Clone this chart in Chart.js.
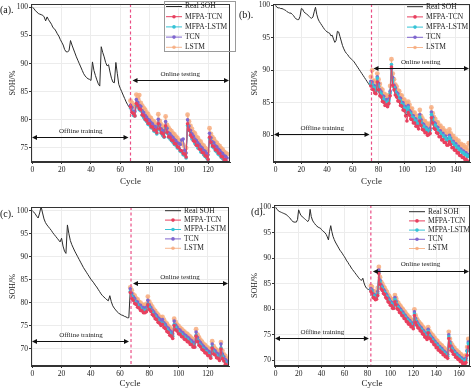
<!DOCTYPE html>
<html>
<head>
<meta charset="utf-8">
<script src="https://cdn.jsdelivr.net/npm/chart.js@4.4.0/dist/chart.umd.min.js"></script>
<style>
  html, body { margin: 0; padding: 0; background: #fff; }
  #wrap { position: relative; width: 474px; height: 389px; overflow: hidden; }
  .panel { position: absolute; }
</style>
</head>
<body>
<div id="wrap">
  <div class="panel" style="left:0;top:0"><canvas id="chartA" width="237" height="195"></canvas></div>
  <div class="panel" style="left:237px;top:0"><canvas id="chartB" width="237" height="195"></canvas></div>
  <div class="panel" style="left:0;top:195px"><canvas id="chartC" width="237" height="194"></canvas></div>
  <div class="panel" style="left:237px;top:195px"><canvas id="chartD" width="237" height="194"></canvas></div>
</div>
<script>
// series names shared by the four panels
var seriesNames = ['Real SOH', 'MFPA-TCN', 'MFPA-LSTM', 'TCN', 'LSTM'];
var seriesColors = ['#2b2b2b', '#e8405f', '#35c3d6', '#7f66cf', 'rgba(247,172,126,0.85)'];
var offlineText = 'Offline training';
var onlineText = 'Online testing';

// ---- panel (a) ----
var xTicksA = [0, 20, 40, 60, 80, 100, 120];
var yTicksA = [75, 80, 85, 90, 95, 100];
var startA = 67;
var realA = [100,99.8,99.4,99.2,98.9,98.8,98.7,98.6,98.3,97.6,
  98.3,97.8,97.4,97.0,96.4,96.2,95.8,95.3,94.9,94.3,
  93.8,93.3,92.5,92.1,92.1,92.3,94.1,93.3,92.6,91.9,
  91.2,90.6,90.0,89.4,88.8,88.2,87.8,87.5,87.3,87.2,
  87.0,90.3,88.8,87.9,87.1,86.4,86.0,93.0,92.0,91.2,
  90.2,89.6,89.8,88.5,87.4,86.7,86.6,90.2,88.2,86.3,
  85.6,85.0,84.4,83.8,83.2,82.7,82.3,
  82.4,81.6,81.2,81.0,83.3,82.6,82.3,81.9,81.2,80.8,
  80.4,80.0,79.7,79.4,79.1,78.8,78.5,78.3,78.0,79.8,
  78.5,78.0,77.6,77.3,79.4,77.9,77.3,77.0,76.7,76.4,
  76.1,75.8,75.5,75.2,74.9,74.6,74.3,74.0,73.7,79.8,
  78.4,77.6,77.0,76.6,76.2,75.8,75.5,75.1,74.8,74.5,
  74.2,73.9,73.6,73.3,77.4,76.2,75.7,75.3,75.0,74.7,
  74.4,74.1,73.8,73.5,73.2,73.0,72.8];
var mfpaTcnA = [82.3,81.3,81.1,80.7,82.9,82.5,82.0,81.8,80.9,80.7,
  80.1,79.9,79.4,79.3,78.8,78.7,78.2,78.2,77.7,79.3,
  78.4,77.7,77.5,77.0,78.9,77.8,77.0,76.9,76.4,76.3,
  75.8,75.7,75.2,75.1,74.6,74.5,74.0,73.9,73.4,79.3,
  78.2,77.3,76.9,76.3,76.1,75.5,75.4,74.8,74.7,74.2,
  74.1,73.6,73.5,73.0,76.9,76.0,75.4,75.2,74.7,74.6,
  74.1,74.0,73.5,73.4,72.9,72.9,72.5];
var mfpaLstmA = [82.1,81.4,80.8,80.7,82.6,82.3,81.8,81.6,80.8,80.4,
  80.0,79.7,79.2,79.1,78.6,78.5,78.0,77.9,77.5,79.0,
  78.2,77.6,77.2,76.9,78.6,77.6,76.9,76.6,76.3,76.0,
  75.6,75.5,75.0,74.9,74.4,74.3,73.8,73.7,73.2,79.0,
  78.1,77.2,76.6,76.3,75.8,75.5,75.0,74.9,74.3,74.2,
  73.8,73.5,73.2,72.9,76.7,75.9,75.2,75.0,74.5,74.3,
  73.9,73.7,73.3,73.1,72.7,72.6,72.4];
var tcnA = [82.6,82.2,81.5,81.5,83.6,83.1,82.6,82.4,81.6,81.3,
  80.8,80.5,80.1,79.9,79.5,79.3,78.9,78.8,78.4,80.1,
  79.1,78.4,78.1,77.7,79.7,78.5,77.7,77.5,77.1,76.9,
  76.5,76.3,75.9,75.8,75.6,76.4,76.6,74.6,74.1,80.0,
  78.9,78.1,77.5,77.1,76.6,76.3,75.9,75.6,75.2,75.0,
  74.6,74.4,74.0,73.8,77.6,76.8,76.1,75.9,75.4,75.2,
  74.8,74.6,74.2,74.0,73.6,73.5,73.2];
var lstmA = [83.4,83.0,82.3,82.6,84.5,83.7,84.4,83.0,82.5,82.1,
  81.8,81.3,81.0,80.5,80.3,79.8,79.7,79.3,79.1,81.0,
  79.8,79.2,78.8,78.5,80.6,79.1,78.6,78.2,78.0,77.6,
  77.4,77.0,76.8,76.4,76.2,75.8,75.6,75.2,75.0,80.9,
  79.7,78.9,78.4,77.8,77.6,77.0,76.8,76.3,76.1,75.6,
  75.4,75.0,74.8,74.4,78.5,77.5,76.9,76.6,76.1,75.9,
  75.5,75.3,74.9,74.7,74.3,74.1,73.9];

// ---- panel (b) ----
var xTicksB = [0, 20, 40, 60, 80, 100, 120, 140];
var yTicksB = [80, 85, 90, 95, 100];
var startB = 74;
var realB = [100,99.7,99.6,99.6,99.5,99.5,99.4,99.3,99.2,99.0,
  98.9,98.8,98.8,98.6,98.4,98.1,97.9,97.8,97.8,98.3,
  99.5,99.4,99.0,98.8,98.7,98.5,98.3,98.1,98.0,98.2,
  99.0,99.7,98.6,97.9,97.5,97.2,96.9,96.6,96.3,96.1,
  95.9,95.8,95.7,95.3,95.4,94.8,94.3,94.6,96.0,95.9,
  95.2,94.5,93.8,93.3,92.9,92.6,92.4,92.1,91.9,91.7,
  91.5,91.3,91.0,90.7,90.4,90.1,89.8,89.5,89.2,88.9,
  88.6,88.3,88.0,87.7,
  87.5,87.2,86.9,86.6,86.3,88.5,86.8,86.2,85.7,85.3,
  84.9,84.6,84.4,84.3,84.6,86.0,90.8,87.8,86.9,86.3,
  85.8,85.4,85.0,84.7,84.3,84.0,83.7,83.4,83.1,83.6,
  83.0,82.6,82.3,82.0,81.8,81.5,81.3,81.1,82.3,81.4,
  81.0,80.7,80.5,80.3,80.1,80.0,80.2,83.0,81.8,81.2,
  80.8,80.5,80.2,79.9,79.7,79.5,79.3,79.1,78.9,78.7,
  78.5,79.2,78.6,78.3,78.1,77.9,77.7,77.5,77.3,77.1,
  76.9,76.8,76.6,76.5,76.3,76.2,76.1];
var mfpaTcnB = [87.6,87.1,87.0,86.5,86.4,88.2,87.0,86.1,85.9,85.2,
  85.1,84.6,84.7,84.4,84.9,86.1,90.5,87.7,87.0,86.2,
  85.9,85.3,85.2,84.6,84.5,83.9,83.8,83.0,82.2,83.5,
  83.1,82.5,82.4,81.9,81.9,81.4,81.4,81.0,82.2,81.5,
  80.9,80.8,80.4,80.4,80.0,80.1,80.3,82.7,81.9,81.1,
  80.9,80.4,80.3,79.8,79.8,79.3,79.3,78.9,78.9,78.5,
  78.5,79.0,78.6,78.1,78.1,77.7,77.7,77.3,77.3,76.9,
  76.9,76.6,76.6,76.3,76.3,76.0,76.0];
var mfpaLstmB = [88.0,87.8,87.4,87.3,86.8,88.8,87.5,86.7,86.4,85.8,
  85.6,85.1,85.1,84.8,85.3,86.5,90.9,88.5,87.4,86.9,
  86.3,86.0,85.5,85.3,84.8,84.7,84.2,84.1,83.6,84.3,
  83.5,83.3,82.8,82.7,82.3,82.2,81.8,81.8,82.8,82.1,
  81.5,81.4,80.9,81.0,80.6,80.7,80.8,83.2,82.5,81.7,
  81.5,81.0,80.9,80.4,80.4,79.9,80.0,79.6,79.6,79.2,
  79.2,79.7,79.3,78.8,78.8,78.4,78.4,78.0,78.0,77.6,
  77.6,77.3,77.3,77.0,77.0,76.7,76.8];
var tcnB = [88.3,88.2,87.7,87.6,87.1,89.0,88.0,87.0,86.7,86.1,
  86.0,85.4,85.5,85.2,85.6,86.8,90.2,88.9,87.7,87.3,
  86.6,86.4,85.8,85.7,85.1,85.0,84.5,84.4,84.0,84.6,
  83.8,83.6,83.1,83.0,82.6,82.5,82.1,82.0,83.2,82.4,
  81.8,81.7,81.3,81.2,80.9,80.9,81.1,83.6,82.8,82.0,
  81.8,81.3,81.2,80.7,80.7,80.2,80.3,79.9,79.9,79.5,
  79.5,80.0,79.6,79.1,79.1,78.7,78.7,78.3,78.3,77.9,
  77.9,77.6,77.6,77.3,77.3,77.0,77.1];
var lstmB = [89.0,90.0,88.3,88.4,87.8,89.5,88.6,87.9,87.2,87.0,
  86.4,86.3,85.9,86.0,86.2,87.6,91.7,89.5,88.6,87.8,
  87.5,86.9,86.8,86.2,86.1,85.5,85.5,85.0,84.9,85.2,
  84.7,84.1,84.1,83.5,83.5,83.0,83.0,82.6,83.9,83.0,
  82.6,82.2,82.2,81.8,81.8,81.4,81.8,84.3,83.4,82.8,
  82.5,82.0,82.0,81.4,81.5,80.9,81.1,80.6,80.7,80.2,
  80.3,80.9,80.3,79.8,79.9,79.4,79.5,79.0,79.2,78.6,
  78.7,78.3,78.5,78.0,78.2,77.7,78.8];

// ---- panel (c) ----
var xTicksC = [0, 20, 40, 60, 80, 100, 120];
var yTicksC = [70, 75, 80, 85, 90, 95, 100];
var startC = 67;
var realC = [100,99.7,99.3,98.8,98.4,99.5,100.9,99.5,98.2,97.4,
  96.9,96.5,96.1,95.7,95.2,94.8,94.4,94.0,93.6,93.2,
  94.0,92.3,91.2,90.7,96.9,95.0,93.5,92.6,91.9,91.2,
  90.6,90.0,89.4,88.8,88.2,87.6,87.1,86.6,86.1,85.6,
  85.1,84.7,84.3,83.8,83.4,82.9,82.4,81.9,81.5,81.2,
  80.9,80.6,80.4,81.5,80.2,79.3,78.8,78.4,78.0,77.7,
  77.5,77.3,77.2,77.0,76.9,76.7,76.7,
  82.8,81.6,81.0,80.5,80.1,79.7,79.3,79.0,78.7,78.5,
  78.3,78.6,80.0,79.2,78.6,78.1,77.6,77.2,76.8,76.4,
  76.0,75.7,75.9,75.3,74.8,74.4,74.0,73.6,73.2,72.9,
  75.6,74.8,74.3,73.9,73.6,73.3,73.0,72.7,72.4,72.2,
  71.9,71.6,71.3,71.0,70.8,73.3,72.0,71.4,70.9,70.5,
  70.1,69.8,69.5,69.2,68.9,68.6,70.6,69.5,69.1,68.7,
  68.4,68.1,70.5,68.5,67.8,67.3,66.9,66.6];
var mfpaTcnC = [82.2,80.9,80.5,79.8,79.6,79.0,78.8,78.3,78.2,77.8,
  77.8,78.0,79.5,78.5,78.1,77.4,77.1,76.5,76.3,75.7,
  75.5,75.0,75.3,74.6,74.3,73.7,73.5,72.9,72.7,72.2,
  75.0,74.1,73.8,73.2,73.1,72.6,72.5,72.0,71.9,71.5,
  71.4,70.9,70.8,70.3,70.3,72.7,71.5,70.7,70.4,69.8,
  69.6,69.1,69.0,68.5,68.4,67.9,70.1,68.8,68.6,68.0,
  67.9,67.4,69.9,67.8,67.3,66.6,66.4,65.9];
var mfpaLstmC = [82.4,81.4,80.6,80.3,79.7,79.5,78.9,78.8,78.3,78.3,
  77.9,78.4,79.6,79.0,78.2,77.9,77.2,77.0,76.4,76.2,
  75.6,75.5,75.5,75.1,74.4,74.2,73.6,73.4,72.8,72.7,
  75.2,74.6,73.9,73.7,73.2,73.1,72.6,72.5,72.0,72.0,
  71.5,71.4,70.9,70.8,70.4,72.9,71.8,71.0,70.7,70.1,
  69.9,69.4,69.3,68.8,68.7,68.2,70.3,69.3,68.7,68.5,
  68.0,67.9,70.1,68.3,67.4,67.1,66.5,66.3];
var tcnC = [83.0,82.0,81.3,80.9,80.3,80.1,79.5,79.4,78.9,78.9,
  78.5,79.0,80.5,79.5,79.0,78.4,78.0,77.5,77.2,76.7,
  76.4,76.0,76.3,75.6,75.2,74.7,74.4,73.9,73.6,73.2,
  76.0,75.1,74.7,74.2,74.0,73.6,73.4,73.0,72.8,72.5,
  72.3,71.9,71.7,71.3,71.2,73.6,72.4,71.7,71.3,70.8,
  70.5,70.1,69.9,69.5,69.3,68.9,71.0,69.8,69.5,69.0,
  68.8,68.4,71.0,68.8,68.2,67.6,67.3,66.9];
var lstmC = [83.3,82.7,81.8,81.5,80.9,80.7,80.1,80.0,79.5,79.5,
  79.1,79.7,81.3,80.2,79.6,79.1,78.5,78.2,77.7,77.4,
  76.9,76.7,76.9,76.3,75.7,75.4,74.9,74.6,74.1,73.9,
  76.5,75.8,75.2,74.9,74.5,74.3,73.9,73.7,73.3,73.2,
  72.8,72.6,72.2,72.0,71.7,74.2,73.0,72.4,71.8,71.5,
  71.0,70.8,70.4,70.2,69.8,69.6,71.6,70.5,70.0,69.7,
  69.3,69.1,71.4,69.5,68.7,68.4,67.8,67.6];

// ---- panel (d) ----
var xTicksD = [0, 20, 40, 60, 80, 100, 120, 140, 160];
var yTicksD = [70, 75, 80, 85, 90, 95, 100];
var startD = 83;
var realD = [100,99.6,99.4,99.2,99.1,99.0,98.9,98.8,98.7,98.6,
  98.4,98.2,98.0,97.7,97.4,97.2,97.1,97.1,97.1,97.6,
  99.5,98.9,98.4,98.2,98.0,97.8,97.6,97.4,97.2,97.6,
  99.6,98.2,97.5,97.1,96.8,96.5,96.3,96.1,96.0,95.9,
  95.6,95.4,95.2,95.0,94.7,94.2,93.6,95.3,96.4,95.2,
  94.3,93.7,93.2,92.8,92.4,92.0,91.6,91.3,91.0,90.6,
  90.3,89.9,89.5,89.2,88.8,88.5,88.1,87.8,87.5,87.2,
  86.9,86.6,86.3,86.0,85.8,85.7,86.1,85.2,84.6,84.2,
  84.0,83.9,83.8,
  83.9,83.4,82.8,82.5,82.4,82.3,83.2,87.5,85.3,84.5,
  84.0,83.6,83.2,82.8,82.4,82.0,81.6,81.3,81.0,80.7,
  80.5,82.0,81.2,80.6,80.2,79.9,79.6,79.3,79.0,78.7,
  78.4,78.1,77.8,77.6,77.4,77.1,76.9,76.7,79.2,77.8,
  77.3,76.9,76.6,76.3,76.0,75.7,75.4,75.1,74.8,74.6,
  75.8,74.9,74.5,74.2,73.9,73.6,73.3,73.0,72.8,72.5,
  72.3,72.1,71.9,71.6,71.4,71.2,71.0,70.9,74.8,73.2,
  72.5,72.0,71.7,71.4,71.1,70.9,70.7,70.5,70.3,70.1,
  69.9,69.8,69.7,70.0,71.5,73.0];
var mfpaTcnD = [83.5,83.1,82.3,82.2,81.9,82.0,82.7,87.0,84.9,84.0,
  83.7,83.1,82.9,82.3,82.1,81.5,81.3,80.8,80.7,80.2,
  80.2,81.5,80.9,80.1,79.9,79.4,79.3,78.8,78.7,78.2,
  78.1,77.6,77.5,77.1,77.1,76.6,76.6,76.2,78.8,77.4,
  76.9,76.4,76.3,75.8,75.7,75.2,75.1,74.6,74.5,74.1,
  75.4,74.4,74.2,73.7,73.6,73.1,73.0,72.5,72.5,72.0,
  72.0,71.6,71.6,71.1,71.1,70.7,70.7,70.4,74.3,72.8,
  72.0,71.7,71.2,71.1,70.6,70.6,70.2,70.2,69.8,69.8,
  69.4,69.5,69.2,69.6,71.0,72.6];
var mfpaLstmD = [83.8,83.5,82.7,82.6,82.3,82.4,83.1,87.2,85.4,84.4,
  84.1,83.5,83.3,82.7,82.5,81.9,81.7,81.2,81.1,80.6,
  80.6,81.9,81.3,80.5,80.3,79.8,79.7,79.2,79.1,78.6,
  78.5,78.0,77.9,77.5,77.5,77.0,77.0,76.6,79.1,77.9,
  77.2,76.9,76.6,76.2,76.1,75.6,75.5,75.0,74.9,74.5,
  75.7,74.9,74.5,74.1,74.0,73.5,73.4,72.9,72.9,72.4,
  72.4,72.0,72.0,71.5,71.5,71.1,71.1,70.8,74.6,73.3,
  72.4,72.1,71.6,71.5,71.0,71.0,70.6,70.6,70.2,70.2,
  69.8,69.9,69.6,70.1,71.8,73.3];
var tcnD = [84.1,83.8,83.0,82.9,82.6,82.7,83.5,87.7,85.7,84.8,
  84.4,83.9,83.6,83.1,82.8,82.3,82.0,81.6,81.4,81.0,
  80.9,82.3,81.6,80.9,80.6,80.2,80.0,79.6,79.4,79.0,
  78.8,78.4,78.2,77.9,77.8,77.4,77.3,77.0,79.5,78.2,
  77.6,77.2,76.9,76.6,76.4,76.0,75.8,75.4,75.2,74.9,
  76.1,75.2,74.8,74.5,74.3,73.9,73.7,73.3,73.2,72.8,
  72.7,72.4,72.3,71.9,71.8,71.5,71.4,71.2,75.0,73.6,
  72.8,72.4,72.0,71.8,71.4,71.3,71.0,70.9,70.6,70.5,
  70.2,70.2,70.0,70.4,72.0,73.6];
var lstmD = [84.6,84.4,83.6,83.5,83.2,83.3,84.2,88.3,86.3,85.4,
  85.0,84.5,84.2,83.7,83.4,82.9,82.6,82.2,82.0,81.6,
  81.5,82.8,82.2,81.5,81.2,80.8,80.6,80.2,80.0,79.6,
  79.4,79.0,78.8,78.5,78.4,78.0,77.9,77.6,80.0,78.8,
  78.2,77.8,77.5,77.2,77.0,76.6,76.4,76.0,75.8,75.5,
  76.5,75.8,75.4,75.1,74.9,74.5,74.3,73.9,73.8,73.4,
  73.3,73.0,72.9,72.5,72.4,72.1,72.0,71.8,75.6,74.2,
  73.4,73.0,72.6,72.4,72.0,71.9,71.6,71.5,71.2,71.1,
  70.8,70.8,70.6,71.0,72.6,74.2];

var serif = "'Liberation Serif', 'Times New Roman', serif";

function pts(arr, start) {
  return arr.map(function (v, i) { return { x: start + i, y: v }; });
}

function arrow(ctx, x1, x2, y) {
  ctx.beginPath(); ctx.moveTo(x1 + 3, y); ctx.lineTo(x2 - 3, y); ctx.stroke();
  ctx.beginPath(); ctx.moveTo(x1, y); ctx.lineTo(x1 + 5, y - 2.5); ctx.lineTo(x1 + 5, y + 2.5); ctx.closePath(); ctx.fill();
  ctx.beginPath(); ctx.moveTo(x2, y); ctx.lineTo(x2 - 5, y - 2.5); ctx.lineTo(x2 - 5, y + 2.5); ctx.closePath(); ctx.fill();
}

// frame, split line, arrows, legend and panel letter
var deco = {
  id: 'deco',
  afterDatasetsDraw: function (chart, args, o) {
    var ctx = chart.ctx, a = chart.chartArea, x = chart.scales.x, y = chart.scales.y;
    ctx.save();
    var sx = x.getPixelForValue(o.split);
    ctx.strokeStyle = '#ea4f86';
    ctx.lineWidth = 1.2;
    ctx.setLineDash([3, 2.5]);
    ctx.beginPath(); ctx.moveTo(sx, a.top); ctx.lineTo(sx, a.bottom); ctx.stroke();
    ctx.setLineDash([]);
    ctx.lineWidth = 1;

    ctx.strokeStyle = '#111';
    ctx.fillStyle = '#111';
    var yOff = Math.round(y.getPixelForValue(o.offArrow)) + 0.5;
    var yOn = Math.round(y.getPixelForValue(o.onArrow)) + 0.5;
    arrow(ctx, a.left + 1, sx - 2, yOff);
    arrow(ctx, sx + 2, a.right - 1, yOn);
    ctx.font = '7px ' + serif;
    ctx.textAlign = 'center';
    ctx.textBaseline = 'middle';
    ctx.fillStyle = '#222';
    ctx.fillText(offlineText, (a.left + sx) / 2, y.getPixelForValue(o.offText));
    ctx.fillText(onlineText, (sx + a.right) / 2, y.getPixelForValue(o.onText));

    // frame
    ctx.strokeStyle = '#333';
    ctx.strokeRect(a.left + 0.5, a.top + 0.5, a.right - a.left - 1, a.bottom - a.top - 1);

    // legend
    if (o.legBox) {
      ctx.strokeStyle = '#9a9a9a';
      ctx.strokeRect(o.legBox[0], o.legBox[1], o.legBox[2], o.legBox[3]);
    }
    ctx.font = '7.5px ' + serif;
    ctx.textAlign = 'left';
    chart.data.datasets.forEach(function (ds, i) {
      var ly = o.legY + i * o.legDy;
      ctx.strokeStyle = ds.borderColor;
      ctx.lineWidth = 1;
      ctx.beginPath(); ctx.moveTo(o.legX, ly); ctx.lineTo(o.legX + 16, ly); ctx.stroke();
      if (i > 0) {
        ctx.fillStyle = ds.borderColor;
        ctx.beginPath(); ctx.arc(o.legX + 8, ly, 1.8, 0, Math.PI * 2); ctx.fill();
      }
      ctx.fillStyle = '#222';
      ctx.fillText(ds.label, o.legX + 19, ly);
    });

    ctx.font = '10px ' + serif;
    ctx.fillStyle = '#111';
    ctx.fillText(o.label, o.labelX, o.labelY);
    ctx.restore();
  }
};

function makeChart(id, p) {
  var preds = [p.mfpaTcn, p.mfpaLstm, p.tcn, p.lstm];
  var datasets = [{
    label: seriesNames[0], data: pts(p.real, 0), borderColor: seriesColors[0],
    borderWidth: 1, pointRadius: 0, order: 5
  }];
  preds.forEach(function (arr, k) {
    datasets.push({
      label: seriesNames[k + 1], data: pts(arr, p.start),
      borderColor: seriesColors[k + 1], backgroundColor: seriesColors[k + 1],
      borderWidth: 1, pointRadius: k === 3 ? 2.4 : 1.8, pointBorderWidth: 0,
      order: k + 1
    });
  });
  return new Chart(document.getElementById(id), {
    type: 'line',
    data: { datasets: datasets },
    plugins: [deco],
    options: {
      responsive: false,
      animation: false,
      layout: { padding: { top: p.area[1], right: p.w - p.area[2], left: 0, bottom: 0 } },
      plugins: { legend: { display: false }, tooltip: { enabled: false }, deco: p.deco },
      scales: {
        x: {
          type: 'linear', min: p.xr[0], max: p.xr[1],
          afterBuildTicks: function (s) { s.ticks = p.xTicks.map(function (v) { return { value: v }; }); },
          afterFit: function (s) { s.height = p.h - p.area[3]; s.paddingLeft = 0; s.paddingRight = 0; },
          grid: { color: '#ececec', tickColor: '#333', tickLength: 2 },
          border: { color: '#333' },
          ticks: { font: { family: serif, size: 7.5 }, color: '#222', padding: 2, maxRotation: 0, autoSkip: false },
          title: { display: true, text: 'Cycle', color: '#222', font: { family: serif, size: 9 }, padding: { top: 0, bottom: p.xTitlePad } }
        },
        y: {
          min: p.yr[0], max: p.yr[1],
          afterBuildTicks: function (s) { s.ticks = p.yTicks.map(function (v) { return { value: v }; }); },
          afterFit: function (s) { s.width = p.area[0]; s.paddingTop = 0; s.paddingBottom = 0; },
          grid: { color: '#ececec', tickColor: '#333', tickLength: 2 },
          border: { color: '#333' },
          ticks: { font: { family: serif, size: 7.5 }, color: '#222', padding: 1, autoSkip: false },
          title: { display: true, text: 'SOH/%', color: '#222', font: { family: serif, size: 8 }, padding: { top: p.yTitlePad, bottom: 0 } }
        }
      }
    }
  });
}

makeChart('chartA', {
  w: 237, h: 195, area: [31, 2, 230, 162], xr: [-1, 135], yr: [72.5, 100.6],
  xTicks: xTicksA, yTicks: yTicksA, start: startA,
  real: realA, mfpaTcn: mfpaTcnA, mfpaLstm: mfpaLstmA, tcn: tcnA, lstm: lstmA,
  xTitlePad: 7.9, yTitlePad: 8.5,
  deco: { split: 67, offArrow: 76.9, offText: 78.0, onArrow: 87.1, onText: 88.1,
    label: '(a).', labelX: 0, labelY: 10, legX: 166, legY: 6.5, legDy: 10.2, legBox: [164.5, 1.5, 71, 50] }
});
makeChart('chartB', {
  w: 237, h: 195, area: [36, 2, 237, 162], xr: [-2, 151], yr: [75.9, 100.2],
  xTicks: xTicksB, yTicks: yTicksB, start: startB,
  real: realB, mfpaTcn: mfpaTcnB, mfpaLstm: mfpaLstmB, tcn: tcnB, lstm: lstmB,
  xTitlePad: 7.9, yTitlePad: 13.5,
  deco: { split: 74.5, offArrow: 80.15, offText: 81.1, onArrow: 90.4, onText: 91.3,
    label: '(b).', labelX: 2, labelY: 15, legX: 170, legY: 6.7, legDy: 10.2 }
});
makeChart('chartC', {
  w: 237, h: 194, area: [31, 12, 229, 171], xr: [-0.9, 134.5], yr: [66.2, 100.8],
  xTicks: xTicksC, yTicks: yTicksC, start: startC,
  real: realC, mfpaTcn: mfpaTcnC, mfpaLstm: mfpaLstmC, tcn: tcnC, lstm: lstmC,
  xTitlePad: 0.3, yTitlePad: 8.5,
  deco: { split: 67.5, offArrow: 71.6, offText: 72.9, onArrow: 84.3, onText: 85.6,
    label: '(c).', labelX: 0, labelY: 19, legX: 165, legY: 15.7, legDy: 9.4 }
});
makeChart('chartD', {
  w: 237, h: 194, area: [37, 10, 237, 171], xr: [-1.5, 169.5], yr: [68.9, 100.45],
  xTicks: xTicksD, yTicks: yTicksD, start: startD,
  real: realD, mfpaTcn: mfpaTcnD, mfpaLstm: mfpaLstmD, tcn: tcnD, lstm: lstmD,
  xTitlePad: 0, yTitlePad: 13.5,
  deco: { split: 83, offArrow: 74.4, offText: 75.6, onArrow: 87.6, onText: 88.8,
    label: '(d).', labelX: 14, labelY: 17, legX: 172, legY: 16.7, legDy: 9.2 }
});
</script>
</body>
</html>
